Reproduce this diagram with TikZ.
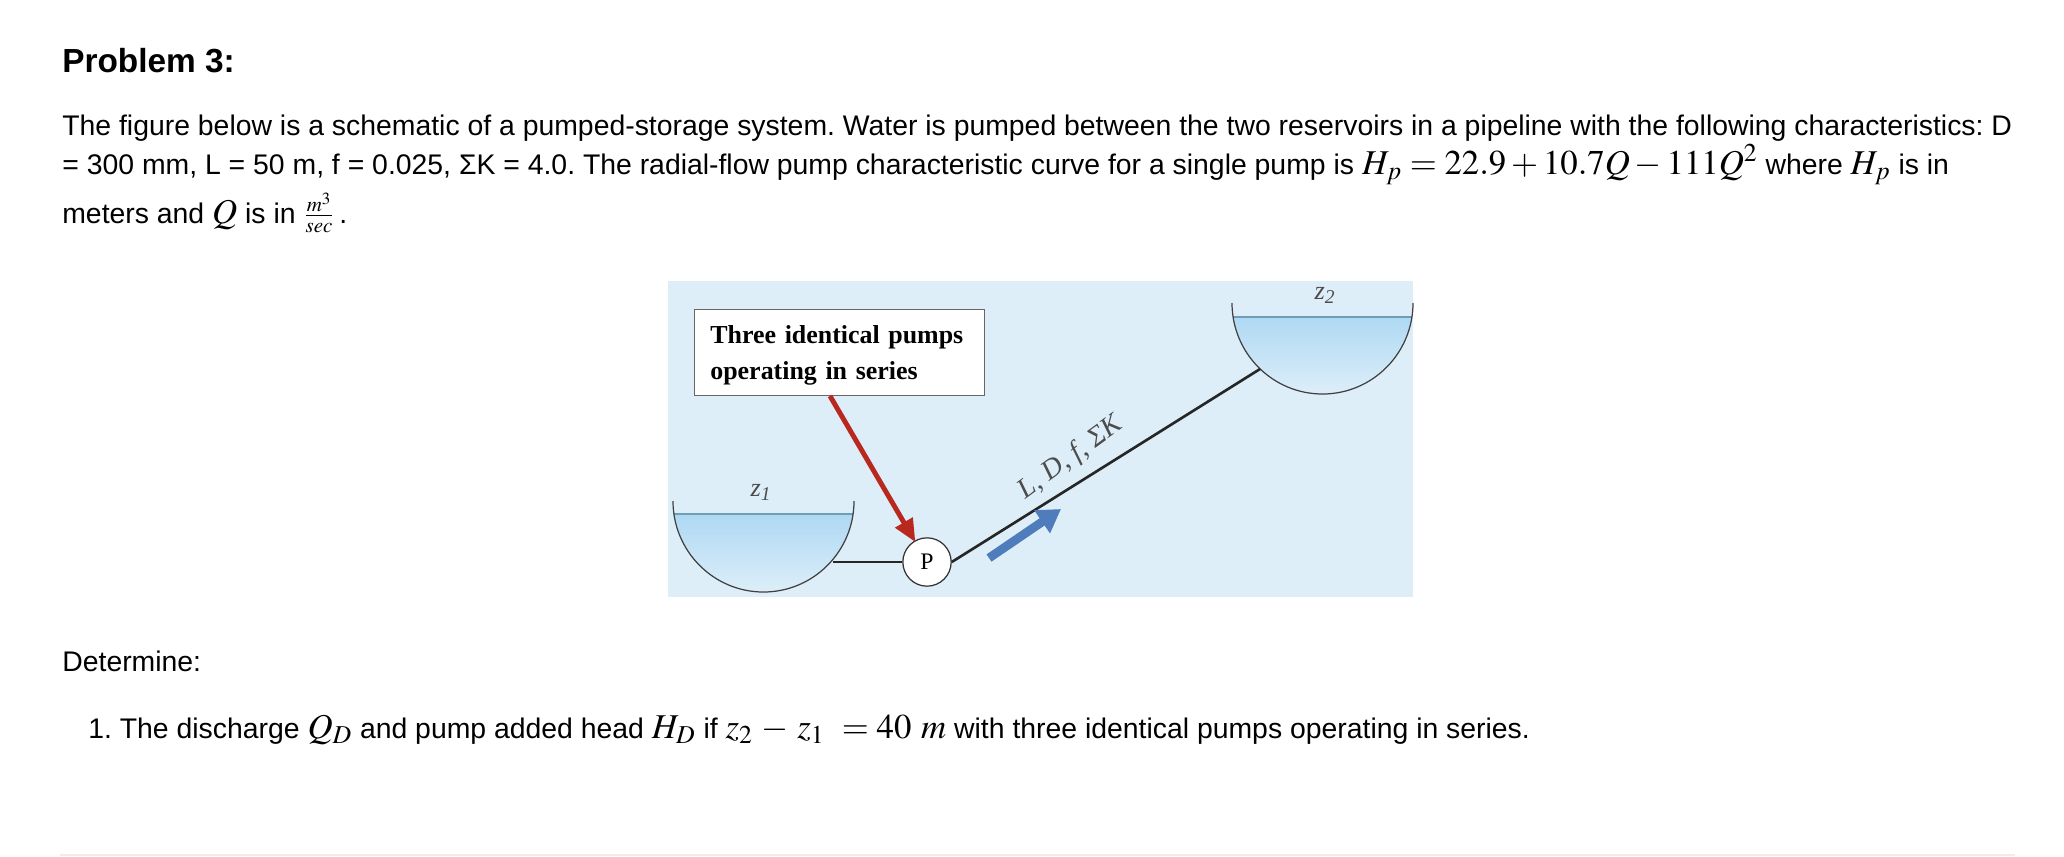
\documentclass[tikz,border=0pt]{standalone}
\usepackage{amsmath}
\usepackage{mathptmx}
\usepackage[no-math]{fontspec}
\usepackage{xcolor}
\usepackage{tikz}
\usetikzlibrary{arrows.meta}
\setmainfont{Liberation Sans}
\newfontfamily\figserif{Liberation Serif}
\frenchspacing
\definecolor{figbg}{HTML}{DDEEF9}
\definecolor{waterblue}{HTML}{A6D5F2}
\definecolor{rimblue}{HTML}{6E9DB5}
\definecolor{callred}{HTML}{B8281E}
\definecolor{flowblue}{HTML}{4F7DBB}
\newcommand{\mth}[1]{{\fontsize{19.8}{23}\selectfont$#1$}}
\tikzset{
  textline/.style={anchor=base west, inner sep=0pt, font=\fontsize{16.15}{19}\selectfont},
  figlabel/.style={inner sep=0pt, text=black!70, font=\figserif\itshape\fontsize{15}{18}\selectfont},
  bowl/.style={draw=black!75, line width=0.7pt},
  pipeline/.style={draw=black!85, line width=1.5pt}
}
\begin{document}
\begin{tikzpicture}[x=0.02cm, y=-0.02cm]
        \useasboundingbox (0,0) rectangle (2064,856);
        % Enunciado
        \node[textline, font=\bfseries\fontsize{19}{22}\selectfont] (title) at (62,72) {Problem 3:};
        \node[textline] (lineA) at (62,135) {The figure below is a schematic of a pumped-storage system. Water is pumped between the two reservoirs in a pipeline with the following characteristics: D};
        \node[textline] (lineB) at (62,174) {= 300 mm, L = 50 m, f = 0.025, ΣK = 4.0. The radial-flow pump characteristic curve for a single pump is \mth{H_p = 22.9 + 10.7Q - 111Q^2} where \mth{H_p} is in};
        \node[textline] (lineC) at (62,223) {meters and \mth{Q} is in $\frac{m^3}{sec}$\,.};
        \node[textline] (lineD) at (62,671) {Determine:};
        \node[textline] (lineE) at (88,738) {1. The discharge \mth{Q_D} and pump added head \mth{H_D} if \mth{z_2\,-\,z_1\ = 40\ m} with three identical pumps operating in series.};
        \fill[black!7] (60,854) rectangle (2015,856);
        % Fondo
        \fill[figbg] (668,281) rectangle (1413,597);
        % Deposito inferior
        \begin{scope}
            \clip (668,514) rectangle (860,597);
            \shade[top color=waterblue, bottom color=figbg] (673,501) arc[start angle=180, end angle=0, x radius=90.5, y radius=91] -- cycle;
        \end{scope}
        \draw[rimblue, line width=0.9pt] (674,514) -- (853,514);
        \draw[bowl] (673,501) arc[start angle=180, end angle=0, x radius=90.5, y radius=91];
        % Deposito superior
        \begin{scope}
            \clip (1228,317) rectangle (1418,400);
            \shade[top color=waterblue, bottom color=figbg] (1232,303) arc[start angle=180, end angle=0, x radius=90.5, y radius=91] -- cycle;
        \end{scope}
        \draw[rimblue, line width=0.9pt] (1233,317) -- (1412,317);
        \draw[bowl] (1232,303) arc[start angle=180, end angle=0, x radius=90.5, y radius=91];
        % Bomba y tuberia
        \node[circle, draw=black!80, fill=white, line width=0.7pt, minimum size=27.5pt, inner sep=0pt, font=\figserif\fontsize{13.5}{16}\selectfont] (pump) at (927,562) {P};
        \coordinate (outletA) at (833,562);
        \coordinate (outletB) at (1260,369);
        \draw[pipeline] (outletA) -- (pump);
        \draw[pipeline] (pump.east) -- (outletB);
        % Recuadro
        \node[draw=black!60, fill=white, line width=0.7pt, text width=147pt, inner xsep=9pt, minimum height=49.3pt, inner ysep=0pt, align=left, font=\figserif\bfseries\fontsize{14.75}{20.4}\selectfont] (note) at (839.5,352.5) {\rule{0pt}{13.5pt}Three identical pumps\\operating in series};
        % Flechas
        \coordinate (noteFoot) at (830,396);
        \draw[callred, line width=2.8pt, -{Triangle[length=13pt, width=11pt]}, shorten >=-1pt] (noteFoot) -- (pump);
        \coordinate (flowTail) at (989,558);
        \coordinate (flowTip) at (1061,509);
        \draw[flowblue, line width=5pt, -{Triangle[length=13pt, width=15pt]}] (flowTail) -- (flowTip);
        % Etiquetas
        \node[figlabel] (levelA) at (761,492) {z\textsubscript{1}};
        \node[figlabel] (levelB) at (1325,295) {z\textsubscript{2}};
        \node[figlabel, rotate=36, font=\figserif\itshape\fontsize{16}{19}\selectfont] (pipeData) at (1071,458) {L, D, f, ΣK};
    \end{tikzpicture}
\end{document}
